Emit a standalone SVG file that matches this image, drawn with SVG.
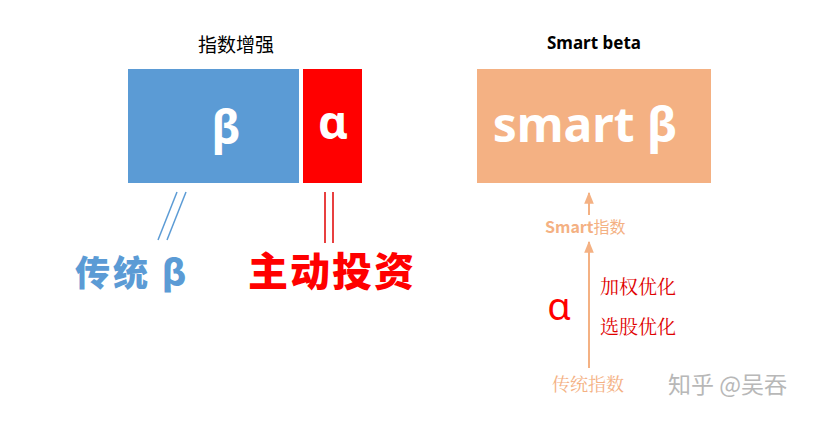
<svg xmlns="http://www.w3.org/2000/svg" width="818" height="421" viewBox="0 0 818 421">
<defs>
<style>
.sans{font-family:"Noto Sans","Noto Sans CJK SC",sans-serif}
.cjk{font-family:"Noto Sans CJK SC",sans-serif}
.serif{font-family:"Noto Serif CJK SC","Noto Sans CJK SC",serif}
.w{fill:#fff;font-weight:bold}
.orl{stroke:#F4B183;stroke-width:2;fill:none}
</style>
<marker id="ah" viewBox="0 0 10 10" refX="9" refY="5" markerWidth="6" markerHeight="6" orient="auto"><path d="M0,1 L10,5 L0,9 Z" fill="#F4B183"/></marker>
</defs>
<rect width="818" height="421" fill="#fff"/>
<g id="left-title"><text x="236" y="52" text-anchor="middle" class="cjk" font-size="19" fill="#000">指数增强</text></g>
<g id="beta-box"><rect x="128" y="69" width="171" height="114" fill="#5B9BD5"/><text x="226" y="144" text-anchor="middle" class="sans w" font-size="46">β</text></g>
<g id="alpha-box"><rect x="303" y="69" width="59" height="114" fill="#FF0000"/><text x="333" y="139" text-anchor="middle" class="sans w" font-size="46">α</text></g>
<g id="connectors-left">
<line x1="177" y1="192" x2="158" y2="240" stroke="#5B9BD5" stroke-width="1.5"/>
<line x1="186" y1="192" x2="167" y2="240" stroke="#5B9BD5" stroke-width="1.5"/>
<line x1="325" y1="192" x2="325" y2="243" stroke="#E00000" stroke-width="1.5"/>
<line x1="333" y1="192" x2="333" y2="243" stroke="#E00000" stroke-width="1.5"/>
</g>
<g id="trad-beta"><text x="75" y="286" class="cjk" font-size="35" font-weight="900" fill="#5B9BD5" letter-spacing="3">传统 β</text></g>
<g id="active"><text x="248" y="286" class="cjk" font-size="40" font-weight="900" fill="#FF0000" letter-spacing="2">主动投资</text></g>
<g id="right-title"><text x="594" y="49" text-anchor="middle" class="sans" font-size="17" font-weight="bold" fill="#000">Smart beta</text></g>
<g id="smart-box"><rect x="477" y="69" width="234" height="114" fill="#F4B183"/><text x="585" y="142" text-anchor="middle" class="sans w" font-size="48">smart β</text></g>
<g id="connectors-right">
<line x1="589" y1="215" x2="589" y2="193" class="orl" stroke-width="1.5" marker-end="url(#ah)"/>
<line x1="589" y1="368" x2="589" y2="242" class="orl" stroke-width="1.5" marker-end="url(#ah)"/>
</g>
<g id="smart-index"><text x="545" y="233" class="cjk" font-size="16" font-weight="bold" fill="#F4B183">Smart<tspan font-weight="normal">指数</tspan></text></g>
<g id="alpha-r"><text x="559" y="320" text-anchor="middle" class="sans" font-size="38" fill="#FF0000">α</text></g>
<g id="opt1"><text x="600" y="294" class="serif" font-size="19" fill="#E00000">加权优化</text></g>
<g id="opt2"><text x="600" y="334" class="serif" font-size="19" fill="#E00000">选股优化</text></g>
<g id="trad-index"><text x="552" y="391" class="serif" font-size="18" fill="#F4B183">传统指数</text></g>
<g id="watermark"><text x="668" y="393" class="cjk" font-size="23" fill="#B8B8B8">知乎 @吴吞</text></g>
</svg>
